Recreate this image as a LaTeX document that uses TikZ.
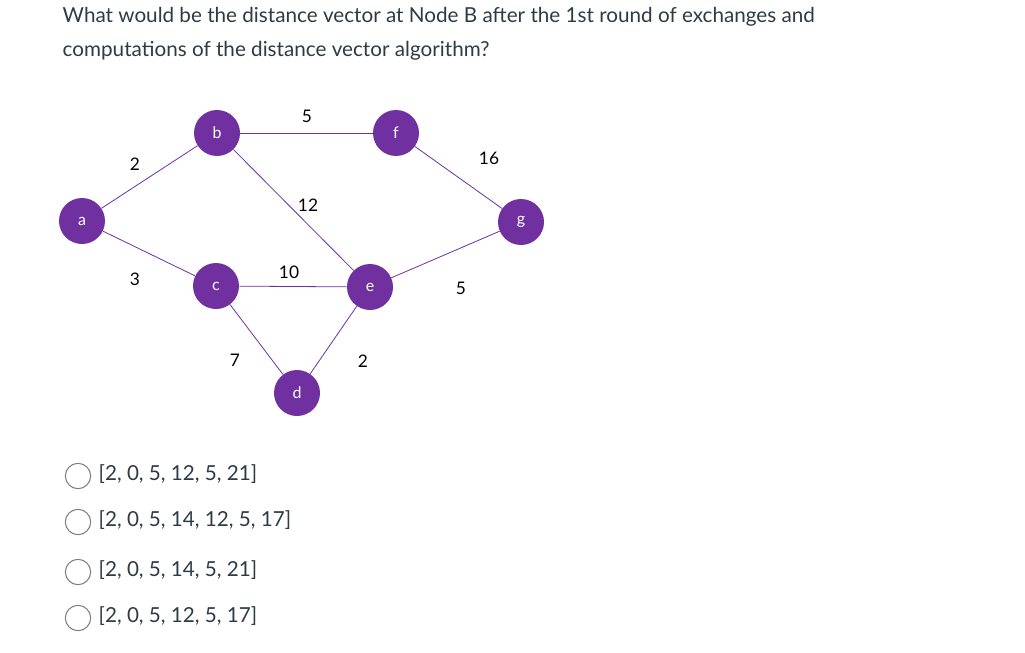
\documentclass[tikz,border=0pt]{standalone}
\usepackage{fontspec}
\setmainfont{Lato}
\definecolor{pur}{HTML}{7030A0}
\definecolor{txt}{HTML}{2D3B45}
\begin{document}
\begin{tikzpicture}[x=0.75pt,y=-0.75pt,
  nd/.style={circle,fill=pur,minimum size=34.5pt,inner sep=0pt,text=white,font=\fontsize{12}{14}\selectfont},
  ed/.style={draw=pur,line width=0.6pt},
  wl/.style={font=\fontsize{13}{15}\selectfont,text=black},
  opt/.style={anchor=west,font=\fontsize{15.5}{18}\selectfont,text=txt},
  radio/.style={circle,draw=gray,line width=0.8pt,minimum size=19pt,inner sep=0pt}]
\useasboundingbox (0,0) rectangle (1025,653);
\node[anchor=west,align=left,font=\fontsize{15.5}{25.5}\selectfont,text=txt] (q) at (58,34)
 {What would be the distance vector at Node B after the 1st round of exchanges and\\computations of the distance vector algorithm?};
\node[nd] (a) at (82,221) {a};
\node[nd] (b) at (217,133) {b};
\node[nd] (f) at (396,133) {f};
\node[nd] (g) at (521,222) {g};
\node[nd] (c) at (216,286) {c};
\node[nd] (e) at (370,287) {e};
\node[nd] (d) at (297,393) {d};
\draw[ed] (a)--(b); \draw[ed] (a)--(c); \draw[ed] (b)--(f); \draw[ed] (b)--(e);
\draw[ed] (c)--(e); \draw[ed] (f)--(g); \draw[ed] (e)--(g); \draw[ed] (c)--(d); \draw[ed] (e)--(d);
\node[wl] (l1) at (135,164) {2};
\node[wl] (l2) at (135,279) {3};
\node[wl] (l3) at (307,116) {5};
\node[wl] (l4) at (308,205) {12};
\node[wl] (l5) at (289,272) {10};
\node[wl] (l6) at (489,158) {16};
\node[wl] (l7) at (461,288) {5};
\node[wl] (l8) at (235,360) {7};
\node[wl] (l9) at (363,361) {2};
\foreach \y/\t [count=\i] in {476/{[2, 0, 5, 12, 5, 21]},522/{[2, 0, 5, 14, 12, 5, 17]},572/{[2, 0, 5, 14, 5, 21]},618/{[2, 0, 5, 12, 5, 17]}}{
  \node[radio] (r\i) at (78,\y) {};
  \node[opt] (o\i) at (94,\y-2) {\t};
}
\end{tikzpicture}
\end{document}
